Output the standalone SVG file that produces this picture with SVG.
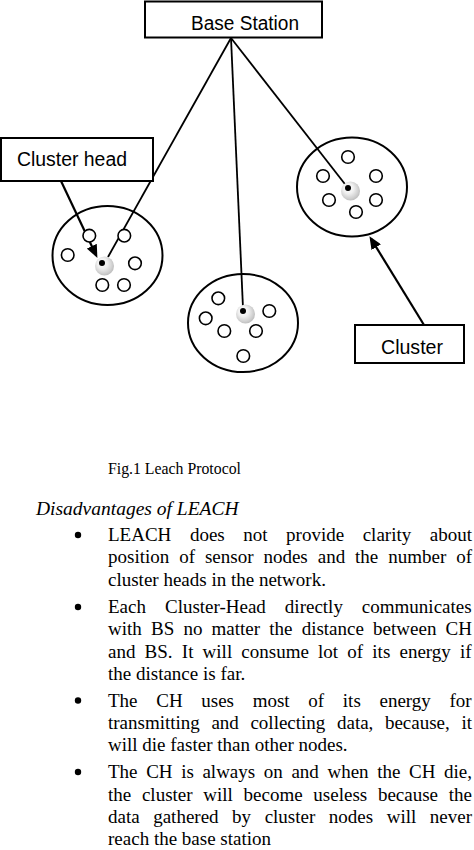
<svg xmlns="http://www.w3.org/2000/svg" width="474" height="850" viewBox="0 0 474 850">
<style>
.box{fill:#fff;stroke:#000;stroke-width:2}
.lbl{font-family:"Liberation Sans",Arial,sans-serif;font-size:19.5px;fill:#000}
.ell{fill:none;stroke:#000;stroke-width:2}
.sn{fill:#fff;stroke:#000;stroke-width:1.6}
.ch{fill:url(#sph)}
.dot{fill:#000}
.con{stroke:#000;stroke-width:1.8;fill:none}
.arr{stroke:#000;stroke-width:2.2;fill:none;marker-end:url(#ah)}
.body{font-family:"Liberation Serif","Times New Roman",serif;font-size:19px;fill:#000}
.cap{font-family:"Liberation Serif","Times New Roman",serif;font-size:15.8px;fill:#000}
.hd{font-family:"Liberation Serif","Times New Roman",serif;font-size:19.5px;font-style:italic;fill:#000}
.bul{fill:#000}
</style>
<defs>
<radialGradient id="sph" cx="0.45" cy="0.45" r="0.6" fx="0.35" fy="0.3">
<stop offset="0" stop-color="#ffffff"/>
<stop offset="0.45" stop-color="#f0f0f0"/>
<stop offset="0.8" stop-color="#cfcfcf"/>
<stop offset="1" stop-color="#b8b8b8"/>
</radialGradient>
<marker id="ah" markerUnits="userSpaceOnUse" markerWidth="13" markerHeight="11" refX="10" refY="5.5" orient="auto">
<path d="M0,0 L13,5.5 L0,11 z" fill="#000"/>
</marker>
</defs>

<g id="connectors">
<line class="con" x1="231" y1="38" x2="108" y2="257"/>
<line class="con" x1="231" y1="38" x2="243" y2="308"/>
<line class="con" x1="231" y1="38" x2="348" y2="188"/>
<line class="arr" x1="61" y1="181" x2="96.1" y2="255.2"/>
<line class="arr" x1="424" y1="325" x2="371" y2="238.7"/>
</g>

<g id="base-station">
<rect class="box" x="145" y="1.5" width="177" height="36"/>
<text class="lbl" x="191" y="30" textLength="108" lengthAdjust="spacingAndGlyphs">Base Station</text>
</g>

<g id="cluster-head-label">
<rect class="box" x="1" y="138" width="152" height="43"/>
<text class="lbl" x="17" y="166" textLength="110" lengthAdjust="spacingAndGlyphs">Cluster head</text>
</g>

<g id="cluster-label">
<rect class="box" x="355" y="325" width="109" height="38"/>
<text class="lbl" x="381" y="354" textLength="62" lengthAdjust="spacingAndGlyphs">Cluster</text>
</g>

<g id="cluster-left">
<ellipse class="ell" cx="107.5" cy="255.5" rx="55" ry="49.5"/>
<circle class="sn" cx="89.3" cy="235.7" r="6.3"/>
<circle class="sn" cx="124.3" cy="235.7" r="6.3"/>
<circle class="sn" cx="67.7" cy="255" r="6.3"/>
<circle class="sn" cx="135" cy="263.3" r="6.3"/>
<circle class="sn" cx="102.3" cy="285" r="6.3"/>
<circle class="sn" cx="124" cy="285" r="6.3"/>
<circle class="ch" cx="104.5" cy="266" r="9.5"/>
<circle class="dot" cx="102" cy="263" r="3"/>
</g>

<g id="cluster-middle">
<ellipse class="ell" cx="243" cy="323" rx="55" ry="49"/>
<circle class="sn" cx="218.3" cy="298.3" r="6.3"/>
<circle class="sn" cx="205.7" cy="318.3" r="6.3"/>
<circle class="sn" cx="224.3" cy="331" r="6.3"/>
<circle class="sn" cx="269.3" cy="311" r="6.3"/>
<circle class="sn" cx="256" cy="331" r="6.3"/>
<circle class="sn" cx="243.3" cy="356" r="6.3"/>
<circle class="ch" cx="245.5" cy="314" r="9.5"/>
<circle class="dot" cx="243" cy="311" r="3"/>
</g>

<g id="cluster-right">
<ellipse class="ell" cx="352" cy="187" rx="55" ry="49.5"/>
<circle class="sn" cx="348" cy="157" r="6.3"/>
<circle class="sn" cx="323" cy="176" r="6.3"/>
<circle class="sn" cx="376" cy="176" r="6.3"/>
<circle class="sn" cx="329" cy="200" r="6.3"/>
<circle class="sn" cx="376" cy="200" r="6.3"/>
<circle class="sn" cx="356" cy="212" r="6.3"/>
<circle class="ch" cx="350.5" cy="191" r="9.5"/>
<circle class="dot" cx="348" cy="188" r="3"/>
</g>

<text class="cap" x="108" y="474">Fig.1 Leach Protocol</text>
<text class="hd" x="36" y="515">Disadvantages of LEACH</text>

<circle class="bul" cx="78" cy="535" r="3.2"/>
<circle class="bul" cx="78" cy="607" r="3.2"/>
<circle class="bul" cx="78" cy="700.5" r="3.2"/>
<circle class="bul" cx="78" cy="772" r="3.2"/>

<text class="body" x="108" y="541" style="word-spacing:13.8px">LEACH does not provide clarity about</text>
<text class="body" x="108" y="563.3" style="word-spacing:5.19px">position of sensor nodes and the number of</text>
<text class="body" x="108" y="585.6">cluster heads in the network.</text>

<text class="body" x="108" y="613" style="word-spacing:14.23px">Each Cluster-Head directly communicates</text>
<text class="body" x="108" y="635.3" style="word-spacing:4.43px">with BS no matter the distance between CH</text>
<text class="body" x="108" y="657.6" style="word-spacing:4.44px">and BS. It will consume lot of its energy if</text>
<text class="body" x="108" y="680">the distance is far.</text>

<text class="body" x="108" y="706.5" style="word-spacing:13.93px">The CH uses most of its energy for</text>
<text class="body" x="108" y="728.8" style="word-spacing:6.84px">transmitting and collecting data, because, it</text>
<text class="body" x="108" y="751.1">will die faster than other nodes.</text>

<text class="body" x="108" y="778" style="word-spacing:3.86px">The CH is always on and when the CH die,</text>
<text class="body" x="108" y="800.5" style="word-spacing:5.97px">the cluster will become useless because the</text>
<text class="body" x="108" y="823" style="word-spacing:8.78px">data gathered by cluster nodes will never</text>
<text class="body" x="108" y="845">reach the base station</text>
</svg>
